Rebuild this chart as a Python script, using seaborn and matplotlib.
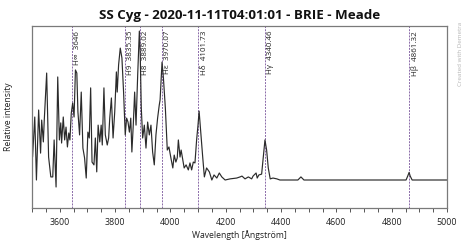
import matplotlib
matplotlib.use("Agg")
import matplotlib.pyplot as plt
from matplotlib.ticker import MultipleLocator
import seaborn as sns
import pandas as pd

# ---- data ----
wavelength = [3502, 3510, 3516, 3524, 3531, 3535, 3541, 3544, 3553, 3560,
              3568, 3575, 3580, 3587, 3593, 3599, 3604, 3607, 3613, 3618,
              3623, 3628, 3633, 3637, 3642, 3647, 3652, 3657, 3662, 3666,
              3672, 3678, 3684, 3690, 3696, 3702, 3707, 3712, 3717, 3724,
              3729, 3734, 3739, 3745, 3750, 3754, 3760, 3765, 3772, 3777,
              3781, 3787, 3793, 3799, 3805, 3808, 3813, 3819, 3825, 3831,
              3837, 3842, 3847, 3852, 3857, 3861, 3866, 3871, 3876, 3882,
              3888, 3891, 3895, 3900, 3906, 3912, 3918, 3924, 3930, 3936,
              3942, 3948, 3954, 3960, 3963, 3970, 3975, 3982, 3989, 3995,
              4002, 4009, 4014, 4020, 4025, 4029, 4035, 4039, 4045, 4050,
              4057, 4065, 4071, 4077, 4083, 4089, 4095, 4100, 4104, 4110,
              4117, 4123, 4131, 4141, 4150, 4158, 4168, 4177, 4186, 4198,
              4216, 4240, 4252, 4259, 4270, 4282, 4294, 4299, 4310, 4314,
              4320, 4330, 4336, 4342, 4348, 4354, 4361, 4371, 4385, 4396,
              4461, 4472, 4483, 4852, 4858, 4863, 4867, 4874, 5000]
intensity = [1.82, 3.25, 1.00, 3.50, 1.96, 3.14, 2.36, 3.07, 4.82, 1.82,
             1.11, 1.11, 2.43, 0.75, 4.68, 2.43, 3.04, 2.32, 3.25, 2.43,
             2.89, 2.18, 2.68, 2.43, 3.39, 3.75, 3.25, 4.93, 4.82, 3.43,
             2.61, 4.14, 2.14, 1.79, 1.07, 2.71, 2.50, 4.29, 1.64, 1.54,
             2.50, 1.29, 2.96, 2.36, 2.96, 2.25, 4.29, 2.61, 2.25, 2.50,
             3.21, 3.93, 2.50, 3.43, 4.86, 4.14, 5.11, 5.71, 5.36, 4.14,
             2.61, 3.21, 3.07, 2.71, 3.21, 2.00, 2.96, 4.14, 2.96, 4.75,
             6.32, 5.57, 3.57, 2.50, 2.96, 2.14, 3.07, 2.61, 2.96, 2.00,
             1.54, 2.61, 3.21, 3.68, 3.86, 5.21, 4.64, 3.57, 2.07, 2.18,
             1.79, 1.43, 1.89, 1.64, 1.79, 2.43, 1.82, 2.07, 1.71, 1.43,
             1.54, 1.36, 1.61, 1.36, 1.64, 1.61, 2.43, 2.96, 3.46, 2.68,
             1.82, 1.11, 1.43, 1.29, 1.00, 1.18, 1.07, 1.25, 1.11, 1.00,
             1.04, 1.07, 1.11, 1.14, 1.04, 1.11, 1.04, 1.14, 1.25, 1.07,
             1.18, 1.21, 1.82, 2.43, 2.07, 1.43, 1.04, 1.07, 1.04, 1.00,
             1.00, 1.11, 1.00, 1.00, 1.14, 1.27, 1.14, 1.00, 1.00]

line_names = ["H\u221e", "H9", "H8", "H\u03b5", "H\u03b4", "H\u03b3", "H\u03b2"]
line_wavelengths = [3646, 3835.35, 3889.02, 3970.07, 4101.73, 4340.46, 4861.32]
line_labels = ["3646", "3835.35", "3889.02", "3970.07", "4101.73", "4340.46", "4861.32"]

title = "SS Cyg - 2020-11-11T04:01:01 - BRIE - Meade"

# ---- style ----
sns.set_style("white")
plt.rcParams["font.family"] = ["Open Sans", "DejaVu Sans"]

df = pd.DataFrame({"Wavelength": wavelength, "Intensity": intensity})

fig = plt.figure(figsize=(4.74, 2.48), dpi=100)
ax = fig.add_axes([32 / 474, 1 - 208 / 248, 415 / 474, 182 / 248])

sns.lineplot(data=df, x="Wavelength", y="Intensity", ax=ax, color="#2b2b2b",
             linewidth=0.85, estimator=None, sort=False)

for name, wl, lab in zip(line_names, line_wavelengths, line_labels):
    ax.axvline(wl, color="#8a6aa8", linewidth=0.7, linestyle=(0, (2, 1.2)), zorder=1)
    ax.annotate(f"{name}  {lab}", xy=(wl, 1.0), xycoords=("data", "axes fraction"),
                xytext=(1.5, -3.5), textcoords="offset points",
                rotation=90, ha="left", va="top", fontsize=5.8, color="#222222")

ax.set_xlim(3500, 5000)
ax.set_ylim(0, 6.5)
ax.xaxis.set_major_locator(MultipleLocator(200))
ax.xaxis.set_minor_locator(MultipleLocator(50))
ax.set_xticks(range(3600, 5001, 200))
ax.set_yticks([])
ax.tick_params(axis="x", which="both", direction="out", length=3, width=0.7,
               color="#555555", labelsize=6.4, labelcolor="#222222", pad=4, bottom=True)
ax.set_xlabel("Wavelength [\u00c5ngstr\u00f6m]", fontsize=6.2, labelpad=2.5, color="#222222")
ax.set_ylabel("Relative intensity", fontsize=6.2, labelpad=14, color="#222222")
for sp in ax.spines.values():
    sp.set_color("#7a7a7a")
    sp.set_linewidth(0.9)

fig.text(239.5 / 474, 1 - 15 / 248, title, ha="center", va="center",
         fontsize=9.6, fontweight="bold", color="#111111")
fig.text(461 / 474, 1 - 54 / 248, "Created with Demetra", rotation=90,
         ha="center", va="center", fontsize=4.5, color="#b5b5b5")

fig.savefig("out.png", dpi=100)
